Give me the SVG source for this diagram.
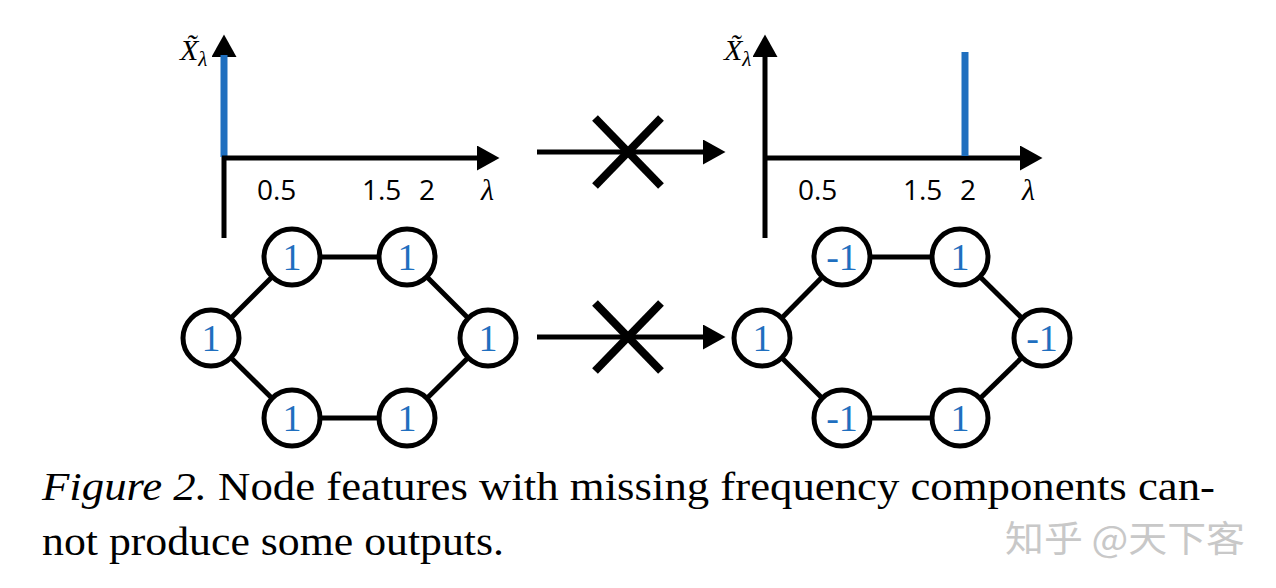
<svg xmlns="http://www.w3.org/2000/svg" width="1276" height="588" viewBox="0 0 1276 588">
<style>
.ax{stroke:#000;stroke-width:5;fill:none}
.bl{stroke:#1f6fbf;stroke-width:7}
.e{stroke:#000;stroke-width:5}
.n circle{fill:#fff;stroke:#000;stroke-width:5}
.n text{font-family:"Liberation Serif",serif;font-size:38px;fill:#1f6fbf;text-anchor:middle}
.lab{font-family:"Open Sans","DejaVu Sans",sans-serif;font-size:28px;fill:#000}
.sym{font-family:"Liberation Serif",serif;font-style:italic;font-size:30px}
.cap{font-family:"Liberation Serif",serif;font-size:41px;fill:#000}
</style>
<defs>
<marker id="ah" markerWidth="5" markerHeight="5" refX="1" refY="2.5" orient="auto" markerUnits="strokeWidth"><path d="M0,0 L4.5,2.5 L0,5 Z" fill="#000"/></marker>
</defs>
<g id="plot-left">
<line class="ax" x1="224" y1="238" x2="224" y2="52" marker-end="url(#ah)"/>
<line class="bl" x1="224" y1="55" x2="224" y2="157"/>
<line class="ax" x1="222" y1="158" x2="482" y2="158" marker-end="url(#ah)"/>
<text class="sym" x="180" y="60">X̃<tspan font-size="21" dy="6">λ</tspan></text>
<text class="lab" x="257" y="200">0.5</text><text class="lab" x="362" y="200">1.5</text><text class="lab" x="419" y="200">2</text>
<text class="sym" x="481" y="200">λ</text>
</g>
<g id="plot-right">
<line class="ax" x1="765" y1="238" x2="765" y2="52" marker-end="url(#ah)"/>
<line class="ax" x1="763" y1="158" x2="1025" y2="158" marker-end="url(#ah)"/>
<line class="bl" x1="965" y1="52" x2="965" y2="156"/>
<text class="sym" x="724" y="60">X̃<tspan font-size="21" dy="6">λ</tspan></text>
<text class="lab" x="798" y="200">0.5</text><text class="lab" x="903" y="200">1.5</text><text class="lab" x="960" y="200">2</text>
<text class="sym" x="1022" y="200">λ</text>
</g>
<g id="connectors">
<line class="ax" x1="537" y1="152" x2="708" y2="152" marker-end="url(#ah)"/>
<line class="e" x1="595" y1="118" x2="661" y2="186" style="stroke-width:8"/>
<line class="e" x1="661" y1="118" x2="595" y2="186" style="stroke-width:8"/>
<line class="ax" x1="537" y1="337" x2="708" y2="337" marker-end="url(#ah)"/>
<line class="e" x1="595" y1="303" x2="661" y2="371" style="stroke-width:8"/>
<line class="e" x1="661" y1="303" x2="595" y2="371" style="stroke-width:8"/>
<line class="e" x1="292" y1="257" x2="407" y2="257"/><line class="e" x1="407" y1="257" x2="488" y2="338"/><line class="e" x1="488" y1="338" x2="407" y2="418"/><line class="e" x1="407" y1="418" x2="292" y2="418"/><line class="e" x1="292" y1="418" x2="211" y2="338"/><line class="e" x1="211" y1="338" x2="292" y2="257"/>
<line class="e" x1="842" y1="257" x2="960" y2="257"/><line class="e" x1="960" y1="257" x2="1042" y2="338"/><line class="e" x1="1042" y1="338" x2="960" y2="418"/><line class="e" x1="960" y1="418" x2="842" y2="418"/><line class="e" x1="842" y1="418" x2="762" y2="338"/><line class="e" x1="762" y1="338" x2="842" y2="257"/>
</g>
<g id="L1" class="n"><circle cx="292" cy="257" r="28"/><text x="292" y="270">1</text></g>
<g id="L2" class="n"><circle cx="407" cy="257" r="28"/><text x="407" y="270">1</text></g>
<g id="L3" class="n"><circle cx="211" cy="338" r="28"/><text x="211" y="351">1</text></g>
<g id="L4" class="n"><circle cx="488" cy="338" r="28"/><text x="488" y="351">1</text></g>
<g id="L5" class="n"><circle cx="292" cy="418" r="28"/><text x="292" y="431">1</text></g>
<g id="L6" class="n"><circle cx="407" cy="418" r="28"/><text x="407" y="431">1</text></g>
<g id="R1" class="n"><circle cx="842" cy="257" r="28"/><text x="842" y="270">-1</text></g>
<g id="R2" class="n"><circle cx="960" cy="257" r="28"/><text x="960" y="270">1</text></g>
<g id="R3" class="n"><circle cx="762" cy="338" r="28"/><text x="762" y="351">1</text></g>
<g id="R4" class="n"><circle cx="1042" cy="338" r="28"/><text x="1042" y="351">-1</text></g>
<g id="R5" class="n"><circle cx="842" cy="418" r="28"/><text x="842" y="431">-1</text></g>
<g id="R6" class="n"><circle cx="960" cy="418" r="28"/><text x="960" y="431">1</text></g>
<text class="cap" x="42" y="500" textLength="1173" lengthAdjust="spacingAndGlyphs"><tspan font-style="italic">Figure 2.</tspan> Node features with missing frequency components can-</text>
<text class="cap" x="42" y="555" textLength="462" lengthAdjust="spacingAndGlyphs">not produce some outputs.</text>
<text x="1005" y="552" font-family="'Noto Sans CJK SC',sans-serif" font-size="36" fill="#c8c8c8" textLength="240" lengthAdjust="spacingAndGlyphs">知乎 @天下客</text>
</svg>
